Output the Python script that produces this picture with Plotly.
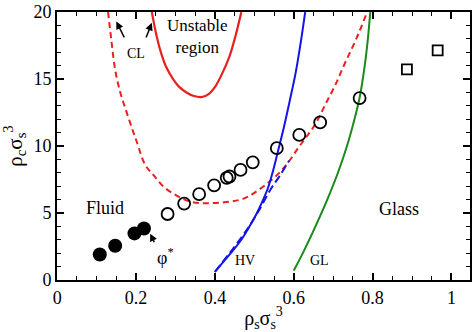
import plotly.graph_objects as go

# Simulation state points
fluid_x = [0.108, 0.147, 0.196, 0.220]
fluid_y = [1.90, 2.55, 3.47, 3.84]

open_x = [0.280, 0.322, 0.360, 0.398, 0.430, 0.437, 0.465, 0.496, 0.557, 0.614, 0.667, 0.767]
open_y = [4.92, 5.70, 6.40, 7.06, 7.62, 7.72, 8.21, 8.78, 9.84, 10.83, 11.76, 13.58]

glass_x = [0.887, 0.965]
glass_y = [15.72, 17.14]

# Theory lines
cl_x = [0.240, 0.250, 0.261, 0.275, 0.294, 0.310, 0.328, 0.345, 0.366, 0.385, 0.400, 0.415, 0.437, 0.452, 0.467]
cl_y = [20.0, 18.5, 17.2, 16.0, 15.0, 14.4, 14.0, 13.75, 13.65, 13.9, 14.4, 15.2, 16.7, 18.2, 20.0]

cld_x = [0.129, 0.137, 0.147, 0.160, 0.173, 0.190, 0.202, 0.223, 0.245, 0.270, 0.303, 0.336, 0.370,
         0.404, 0.440, 0.471, 0.500, 0.530, 0.560, 0.588, 0.610, 0.630, 0.656, 0.680, 0.706, 0.730, 0.760, 0.786]
cld_y = [20.0, 18.0, 15.7, 14.0, 12.8, 11.3, 10.3, 8.6, 7.8, 6.95, 6.3, 5.85, 5.72,
         5.75, 5.85, 6.05, 6.5, 7.14, 7.9, 8.86, 9.8, 10.6, 11.7, 13.1, 14.6, 16.2, 18.1, 20.0]

hv_x = [0.400, 0.423, 0.446, 0.467, 0.488, 0.505, 0.521, 0.535, 0.548, 0.559, 0.575, 0.590, 0.605, 0.617, 0.629]
hv_y = [0.6, 1.4, 2.2, 3.0, 4.0, 4.9, 5.9, 6.9, 8.2, 9.5, 11.4, 13.4, 15.5, 17.6, 20.0]

hvd_x = [0.400, 0.440, 0.480, 0.510, 0.540, 0.565, 0.588]
hvd_y = [0.6, 2.1, 3.7, 5.1, 6.7, 7.8, 8.9]

gl_x = [0.600, 0.623, 0.655, 0.685, 0.712, 0.735, 0.754, 0.767, 0.780, 0.788, 0.794]
gl_y = [0.7, 2.0, 4.0, 6.0, 8.0, 10.0, 12.0, 13.6, 16.0, 18.0, 20.0]

RED = "#e8201f"
BLUE = "#1414e6"
GREEN = "#1a8a1a"
FONT = "Liberation Serif, Times New Roman, serif"

fig = go.Figure()
fig.add_trace(go.Scatter(x=cl_x, y=cl_y, mode="lines", line=dict(color=RED, width=2.2, shape="spline")))
fig.add_trace(go.Scatter(x=cld_x, y=cld_y, mode="lines",
                         line=dict(color=RED, width=2, dash="6px,4px", shape="spline")))
fig.add_trace(go.Scatter(x=hvd_x, y=hvd_y, mode="lines",
                         line=dict(color=BLUE, width=2, dash="8px,4px", shape="spline")))
fig.add_trace(go.Scatter(x=hv_x, y=hv_y, mode="lines", line=dict(color=BLUE, width=2, shape="spline")))
fig.add_trace(go.Scatter(x=gl_x, y=gl_y, mode="lines", line=dict(color=GREEN, width=2, shape="spline")))
fig.add_trace(go.Scatter(x=fluid_x, y=fluid_y, mode="markers",
                         marker=dict(symbol="circle", size=14, color="black")))
fig.add_trace(go.Scatter(x=open_x, y=open_y, mode="markers",
                         marker=dict(symbol="circle-open", size=12, color="black", line=dict(width=1.8))))
fig.add_trace(go.Scatter(x=glass_x, y=glass_y, mode="markers",
                         marker=dict(symbol="square-open", size=10, color="black", line=dict(width=1.8))))

def label(x, y, text, size):
    fig.add_annotation(x=x, y=y, xref="x", yref="y", text=text, showarrow=False,
                       font=dict(family=FONT, size=size, color="black"))

label(0.122, 5.4, "Fluid", 18)
label(0.866, 5.3, "Glass", 18)
label(0.354, 18.2, "Unstable<br>region", 17)
label(0.200, 16.9, "CL", 14)
label(0.476, 1.45, "HV", 14)
label(0.666, 1.45, "GL", 14)
label(0.274, 1.75, "φ<sup>*</sup>", 18)

def arrow(x0, y0, x1, y1):
    fig.add_annotation(x=x1, y=y1, ax=x0, ay=y0, xref="x", yref="y", axref="x", ayref="y",
                       text="", showarrow=True, arrowhead=2, arrowsize=1, arrowwidth=1.5,
                       arrowcolor="black")

arrow(0.172, 18.0, 0.150, 19.3)
arrow(0.224, 18.0, 0.240, 19.2)
arrow(0.248, 2.7, 0.236, 3.45)

axis_common = dict(showline=True, linecolor="black", linewidth=2, mirror="ticks",
                   ticks="inside", ticklen=7, tickwidth=1.6, tickcolor="black",
                   showgrid=False, zeroline=False, ticklabeloverflow="allow",
                   tickfont=dict(family=FONT, size=18, color="black"))

fig.update_xaxes(range=[-0.0005, 1.047], tickvals=[0, 0.2, 0.4, 0.6, 0.8, 1.0],
                 ticktext=["0", "0.2", "0.4", "0.6", "0.8", "1"],
                 minor=dict(dtick=0.05, ticks="inside", ticklen=4, tickwidth=1.3, tickcolor="black"),
                 title=dict(text="ρ<sub>s</sub>σ<sub>s</sub><sup>3</sup>",
                            font=dict(family=FONT, size=20, color="black"), standoff=6),
                 **axis_common)
fig.update_yaxes(range=[-0.01, 20.01], tickvals=[0, 5, 10, 15, 20],
                 ticktext=["0", "5", "10", "15", "20"],
                 minor=dict(dtick=1, ticks="inside", ticklen=4, tickwidth=1.3, tickcolor="black"),
                 title=dict(text="ρ<sub>c</sub>σ<sub>s</sub><sup>3</sup>",
                            font=dict(family=FONT, size=21, color="black"), standoff=6),
                 **axis_common)

fig.update_layout(width=474, height=332, showlegend=False,
                  font=dict(family=FONT, color="black"),
                  margin=dict(l=57, r=2, t=9, b=52),
                  plot_bgcolor="white", paper_bgcolor="white")

fig.write_html("out.html")
